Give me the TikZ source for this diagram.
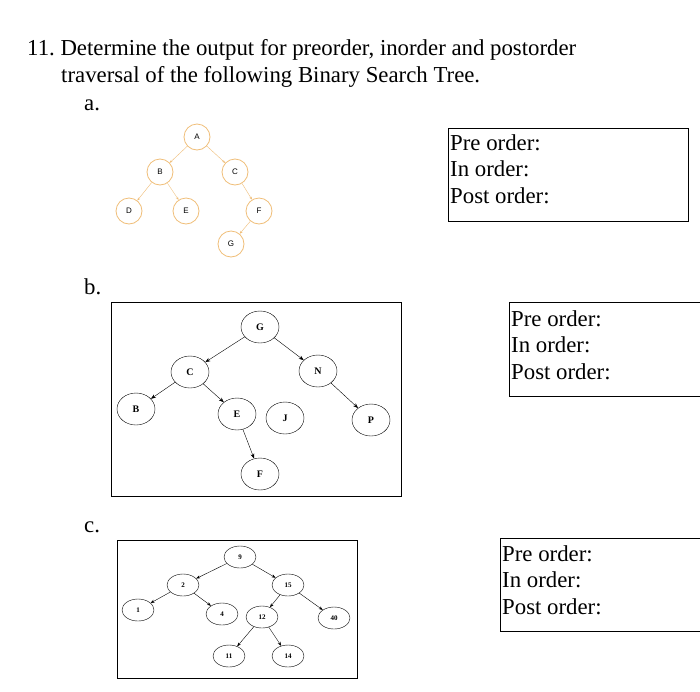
\documentclass[tikz,border=0pt]{standalone}
\usepackage{fontspec}
\setmainfont{Liberation Serif}
\setsansfont{Liberation Sans}
\usetikzlibrary{arrows.meta,shapes.geometric}
\definecolor{org}{RGB}{240,190,120}
\frenchspacing
\begin{document}
\begin{tikzpicture}[x=1pt,y=-1pt,
  txt/.style={anchor=base west,inner sep=0,font=\fontsize{22.8}{26}\selectfont},
  an/.style={circle,draw=org,thick,minimum size=26pt,inner sep=0,font=\sffamily\fontsize{8}{9}\selectfont},
  ae/.style={draw=org,-{Stealth[length=3pt]}},
  bn/.style={ellipse,draw,minimum width=38pt,minimum height=32pt,inner sep=0,font=\bfseries\fontsize{10}{11}\selectfont},
  be/.style={draw,-{Stealth[length=5pt]}},
  cn/.style={ellipse,draw,minimum width=32pt,minimum height=22pt,inner sep=0,font=\bfseries\fontsize{7}{8}\selectfont},
  ce/.style={draw,-{Stealth[length=4pt]}},
  tb/.style={draw,thick}]
\useasboundingbox (0,0) rectangle (700,691);
\fill[white] (0,0) rectangle (700,691);
\node[txt] (t1) at (27,55) {11. Determine the output for preorder, inorder and postorder};
\node[txt] (t2) at (61,82) {traversal of the following Binary Search Tree.};
\node[txt] (la) at (84,110) {a.};
\node[txt] (lb) at (84,294) {b.};
\node[txt] (lc) at (84,532) {c.};
% tree a
\node[an] (A) at (197,137) {A};
\node[an] (B) at (160,172) {B};
\node[an] (C) at (235,172) {C};
\node[an] (D) at (129,211) {D};
\node[an] (E) at (186,211) {E};
\node[an] (F) at (259,211) {F};
\node[an] (G) at (231,244) {G};
\draw[ae] (A)--(B); \draw[ae] (A)--(C); \draw[ae] (B)--(D); \draw[ae] (B)--(E);
\draw[ae] (C)--(F); \draw[ae] (F)--(G);
\draw[tb] (448,128) rectangle (688,221);
\node[txt] (pa) at (450,150) {Pre order:};
\node[txt] (ia) at (450,176) {In order:};
\node[txt] (oa) at (450,203) {Post order:};
% tree b
\draw (111,302) rectangle (401,496);
\node[bn] (bG) at (260,327) {G};
\node[bn] (bC) at (190,372) {C};
\node[bn] (bN) at (318,371) {N};
\node[bn] (bB) at (136,409) {B};
\node[bn] (bE) at (237,414) {E};
\node[bn] (bJ) at (285,418) {J};
\node[bn] (bP) at (371,420) {P};
\node[bn] (bF) at (260,474) {F};
\draw[be] (bG)--(bC); \draw[be] (bG)--(bN); \draw[be] (bC)--(bB); \draw[be] (bC)--(bE);
\draw[be] (bN)--(bP); \draw[be] (bE)--(bF);
\draw[tb] (700.5,302) -- (509,302) -- (509,396) -- (700.5,396);
\node[txt] (pb) at (511,326) {Pre order:};
\node[txt] (ib) at (511,352) {In order:};
\node[txt] (ob) at (511,379) {Post order:};
% tree c
\draw (117,540) rectangle (357,678);
\node[cn] (c9) at (240,557) {9};
\node[cn] (c2) at (183,585) {2};
\node[cn] (c15) at (288,585) {15};
\node[cn] (c1) at (138,610) {1};
\node[cn] (c4) at (222,614) {4};
\node[cn] (c12) at (262,617) {12};
\node[cn] (c40) at (334,618) {40};
\node[cn] (c11) at (229,656) {11};
\node[cn] (c14) at (288,656) {14};
\draw[ce] (c9)--(c2); \draw[ce] (c9)--(c15); \draw[ce] (c2)--(c1); \draw[ce] (c2)--(c4);
\draw[ce] (c15)--(c12); \draw[ce] (c15)--(c40); \draw[ce] (c12)--(c11); \draw[ce] (c12)--(c14);
\draw[tb] (700.5,538) -- (500,538) -- (500,631) -- (700.5,631);
\node[txt] (pc) at (502,561) {Pre order:};
\node[txt] (ic) at (502,587) {In order:};
\node[txt] (oc) at (502,614) {Post order:};
\end{tikzpicture}
\end{document}
